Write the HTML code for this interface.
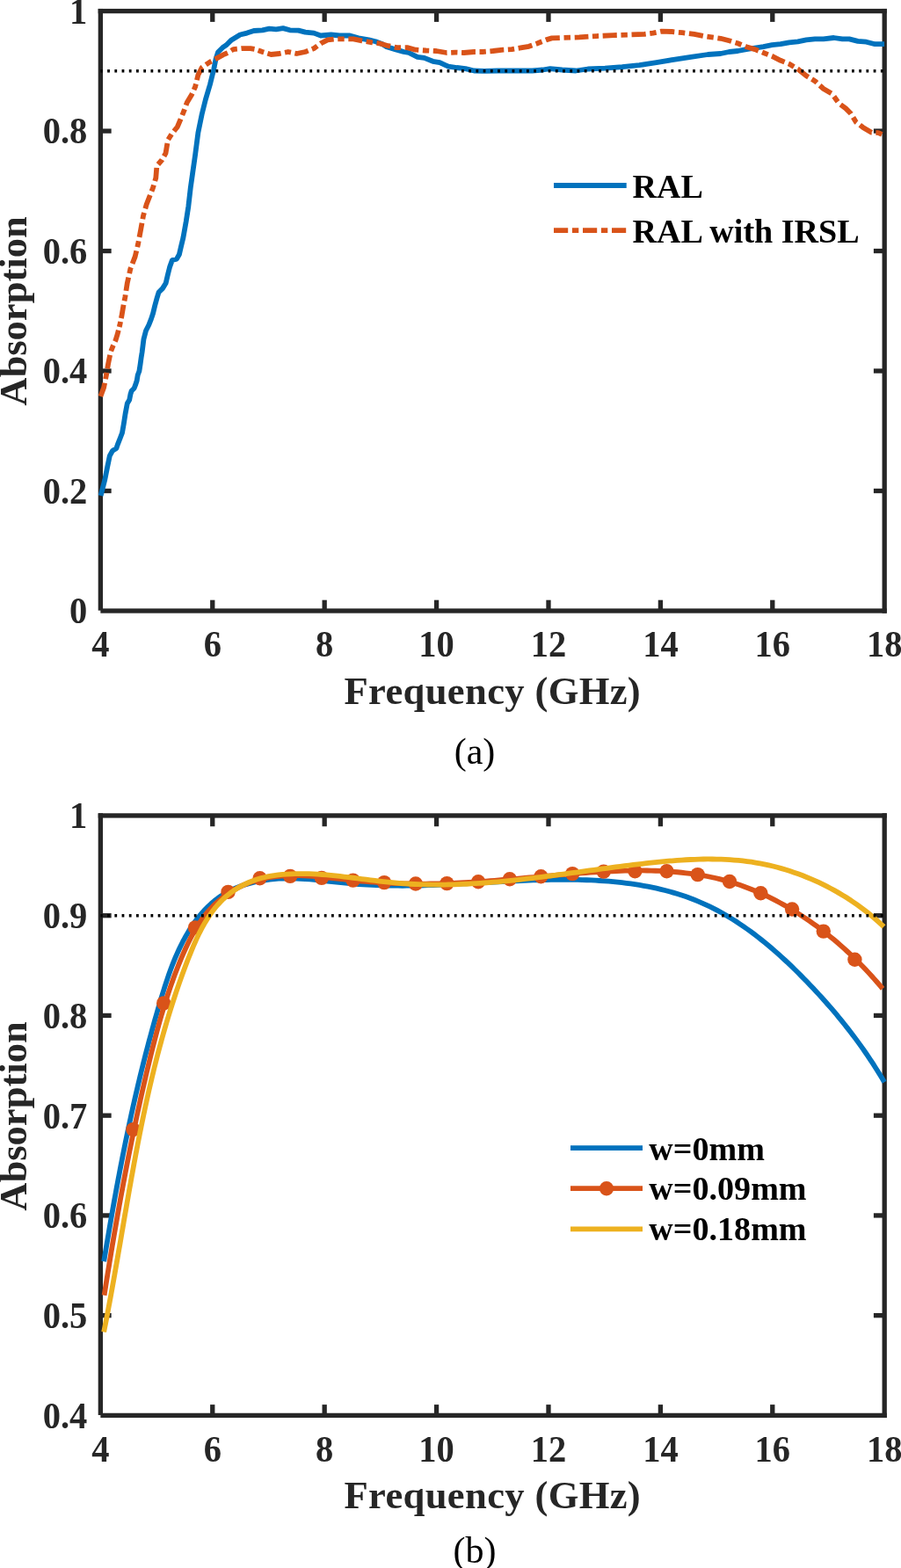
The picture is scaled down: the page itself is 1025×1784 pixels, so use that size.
<!DOCTYPE html>
<html><head><meta charset="utf-8"><title>Absorption vs Frequency</title>
<style>
html,body{margin:0;padding:0;background:#fff;}
body{width:1025px;height:1784px;overflow:hidden;}
svg{display:block;}
text{font-family:"Liberation Serif","Times New Roman",serif;}
</style></head><body>
<svg width="1025" height="1784" viewBox="0 0 1025 1784">
<defs>
<clipPath id="ca"><rect x="111.7" y="10" width="897.2" height="687.7"/></clipPath>
<clipPath id="cb"><rect x="111.7" y="925.3" width="897.2" height="687.8"/></clipPath>
</defs>
<rect width="1025" height="1784" fill="#fff"/>
<!-- ===== Plot (a) ===== -->
<g fill="#262626">
<rect x="111.7" y="9.95" width="5.3" height="684.65"/>
<rect x="111.7" y="9.95" width="897.15" height="5.3"/>
<rect x="1003.55" y="9.95" width="5.3" height="687.7"/>
<rect x="114.35" y="692.35" width="894.5" height="5.3"/>
</g>
<g fill="none" stroke="#262626" stroke-width="5.3">
<line x1="114.35" y1="558.52" x2="126.65" y2="558.52"/>
<line x1="1006.2" y1="558.52" x2="993.9" y2="558.52"/>
<line x1="114.35" y1="422.04" x2="126.65" y2="422.04"/>
<line x1="1006.2" y1="422.04" x2="993.9" y2="422.04"/>
<line x1="114.35" y1="285.56" x2="126.65" y2="285.56"/>
<line x1="1006.2" y1="285.56" x2="993.9" y2="285.56"/>
<line x1="114.35" y1="149.08" x2="126.65" y2="149.08"/>
<line x1="1006.2" y1="149.08" x2="993.9" y2="149.08"/>
<line x1="241.76" y1="695" x2="241.76" y2="682.7"/>
<line x1="241.76" y1="12.6" x2="241.76" y2="24.9"/>
<line x1="369.16" y1="695" x2="369.16" y2="682.7"/>
<line x1="369.16" y1="12.6" x2="369.16" y2="24.9"/>
<line x1="496.57" y1="695" x2="496.57" y2="682.7"/>
<line x1="496.57" y1="12.6" x2="496.57" y2="24.9"/>
<line x1="623.98" y1="695" x2="623.98" y2="682.7"/>
<line x1="623.98" y1="12.6" x2="623.98" y2="24.9"/>
<line x1="751.39" y1="695" x2="751.39" y2="682.7"/>
<line x1="751.39" y1="12.6" x2="751.39" y2="24.9"/>
<line x1="878.79" y1="695" x2="878.79" y2="682.7"/>
<line x1="878.79" y1="12.6" x2="878.79" y2="24.9"/>
</g>
<g clip-path="url(#ca)" fill="none" stroke-linejoin="round" stroke-width="5.8">
<path d="M114.6 563.9 119.3 545.7 122.2 531.1 124.8 518.7 128 512.9 132.4 510 133.9 505.6 136.8 498.3 139 492.5 140.8 482.3 142.6 470.6 144.8 459 147.2 455 148.4 448.7 149.6 444.8 152.6 441.8 154.3 437.4 155.7 433 156.7 426.7 158.4 422.3 159.6 414.5 160.6 407.2 161.6 400.9 163.5 385.7 166 376.2 169.3 369.7 171.9 363.1 174.1 356.5 176.2 347.8 178.8 338.3 180.6 332.5 185 328.1 188.6 322.3 190.8 312.8 193 304.1 195.9 296 201 294.6 203.9 289.5 206.1 280 208.4 270.5 211.7 252 214.3 235.2 216.8 213.4 218.7 200 222.1 176.1 225.4 150.9 229.7 129.9 233.9 113.1 238.9 96.2 243.1 79.4 245.6 66.8 248.1 59.2 253.2 54.2 258 50.8 263.4 45.4 273.2 39.5 281 37.6 288.8 35 298.5 34.3 306.3 32.6 314.1 33.3 322 32.1 329.8 34.3 339.5 34.6 347.3 36.6 357.1 37.6 364.9 40.5 376.6 39.5 386.3 40.5 398 40.5 407.8 43.4 419.5 45.4 427.3 47.3 435.1 50.2 439.8 53.2 449.5 56.1 459.3 59 465.1 60 474.9 64.9 482.7 65.9 492.4 69.8 500.2 71.1 510 75.6 519.8 77 529.5 78.1 539.3 80.5 551 80.9 566.6 80.5 586.1 80.5 605.6 80.5 617.3 79.5 625.9 78.1 639.5 79.5 655.1 80.5 668.8 78.5 688.3 77.6 707.8 76.2 727.3 74.2 746.8 71.1 766.3 67.8 785.9 64.9 805.4 62 819.8 61 829.5 59 839.3 58 849 56.1 858.8 54.7 868.5 53.2 878.3 51.2 888 50.2 897.8 48.3 907.6 47.3 917.3 45.4 927.1 44.4 936.8 44.4 948.5 43 958.3 44.4 966.1 44.4 975.9 46.9 985.6 47.7 995.4 50.2 1006.1 50.2" stroke="#0072BD"/>
<path d="M114.4 451 118.1 441 119.15 435.76 M120.06 431.22 120.8 427.5 121.39 424.01 M122.17 419.45 123.1 414 125.14 403.87 M126.26 399.44 128.6 393.5 128.97 392.69 M130.86 388.51 131.5 387.1 133.6 380.4 134.8 375.72 M135.77 371.97 136.2 370.3 137.1 365.97 M137.89 362.18 138.3 360.2 140.58 346.8 M141.47 342.37 142.3 338.2 142.74 335.33 M143.43 330.87 144.8 322 146.23 315.52 M147.21 311.11 148.4 305.7 148.98 304.19 M150.6 299.97 153.7 291.9 155.24 285.41 M156.26 281.1 157 278 157.71 274.23 M158.53 269.88 160.2 261 161.49 253.85 M162.33 249.21 163 245.5 164.01 241.94 M165.3 237.41 166.7 232.5 170.79 222.02 M172.51 217.62 174 213.8 174.94 210.54 M176.26 206 177.3 202.4 178.23 190.86 M179.88 186.99 184.2 182 184.41 181.63 M186.59 177.78 188.5 174.4 190.38 163.02 M191.37 158.72 195.12 152.73 M197.88 149.23 201.9 144.2 205.59 135.32 M207.35 131.02 209.5 125.7 210.04 124.18 M211.59 119.8 212.8 116.4 217.9 108 218.72 106.2 M220.57 102.14 222.1 98.8 222.91 95.5 M223.96 91.17 225.4 85.3 229.7 76.9 230.41 76.4 M234.28 73.68 238.1 71 240.58 69.64 M244.72 67.37 246.5 66.4 254.9 61.8 258.99 60.04 M262.97 57.67 265.4 56.1 269.84 55.64 M274.46 55.17 275.1 55.1 284.9 55.1 289.51 55.9 M293.67 57.2 298.5 59 300.2 59.52 M304.38 60.8 308.3 62 318 61 319.63 60.67 M324.03 59.77 327.8 59 331 59.65 M335.39 60.55 337.6 61 347.3 59 350.65 57.67 M354.88 55.98 357.1 55.1 360.98 52.21 M364.64 49.49 364.9 49.3 372.7 45.4 379.67 44.68 M384.3 44.4 391.66 44.4 M396.3 44.4 402 44.4 411.7 46.3 412.12 46.37 M416.68 47.15 423.4 48.3 423.91 48.37 M428.51 48.95 431.2 49.3 441.7 52.2 444.15 52.68 M448.72 53.56 451.5 54.1 456.05 54.1 M460.71 54.1 463.2 54.1 472.9 56.7 476.29 56.93 M480.89 57.25 484.6 57.5 488.18 57.65 M492.78 57.85 496.3 58 508 60 508.54 59.98 M513.15 59.79 517.8 59.6 520.44 59.71 M525.04 59.9 527.6 60 539.3 59 540.93 59 M545.54 59 549 59 552.83 58.67 M557.42 58.28 560.7 58 572.4 56.7 573.27 56.65 M577.87 56.37 582.2 56.1 585.12 55.6 M589.66 54.83 593.9 54.1 601.7 52.8 605.32 51.51 M609.69 49.94 611.5 49.3 616.55 47.27 M620.86 45.54 621.2 45.4 627.8 43.4 636.83 43.09 M641.54 42.94 649.01 42.71 M653.72 42.56 659 42.4 669.41 41.71 M673.94 41.4 678.5 41.1 681.13 40.97 M685.66 40.73 698 40.1 701.8 39.98 M706.47 39.84 713.87 39.61 M718.54 39.46 733.2 38.9 734.67 38.7 M739.3 38.08 742.9 37.6 746.59 36.85 M751.17 35.91 752.7 35.6 764.4 36 767.27 36.29 M771.92 36.77 776.1 37.2 779.27 37.59 M783.91 38.17 789.8 38.9 799.84 40.82 M804.43 41.64 811.76 42.67 M816.39 43.32 819.8 43.8 829.5 46.3 832.08 47.09 M836.54 48.46 839.3 49.3 843.49 50.99 M847.83 52.73 849 53.2 858.8 56.1 862.81 57.71 M867.06 59.42 868.5 60 873.79 62.1 M878.04 63.79 878.3 63.9 888 68.8 892.56 70.61 M896.87 72.33 897.8 72.7 903.27 75.94 M907.27 78.3 907.6 78.5 917.3 86.3 919.68 87.73 M923.55 90.06 927.1 92.2 929.33 94.22 M932.67 97.26 936.8 101 945.78 106.32 M948.75 109.78 953.05 115.73 M956.26 118.98 962.2 123.4 968 129.3 968.15 129.54 M970.55 133.49 973.9 139 974.58 139.52 M978.26 142.3 981.7 144.9 991.5 150.7 991.76 150.71 M996.37 150.95 999.3 151.1 1003.3 152.89" stroke="#D95319"/>
<line x1="114.35" y1="80.8" x2="1006.2" y2="80.8" stroke="#000" stroke-width="3.5" stroke-dasharray="2.8 5.422" stroke-dashoffset="0.45"/>
</g>
<g font-weight="bold" font-size="40.5" fill="#262626">
<text transform="translate(99.3 709.4) scale(1 1.04)" text-anchor="end">0</text>
<text transform="translate(99.3 572.92) scale(1 1.04)" text-anchor="end">0.2</text>
<text transform="translate(99.3 436.44) scale(1 1.04)" text-anchor="end">0.4</text>
<text transform="translate(99.3 299.96) scale(1 1.04)" text-anchor="end">0.6</text>
<text transform="translate(99.3 163.48) scale(1 1.04)" text-anchor="end">0.8</text>
<text transform="translate(99.3 27) scale(1 1.04)" text-anchor="end">1</text>
<text transform="translate(114.35 747.2) scale(1 1.04)" text-anchor="middle">4</text>
<text transform="translate(241.76 747.2) scale(1 1.04)" text-anchor="middle">6</text>
<text transform="translate(369.16 747.2) scale(1 1.04)" text-anchor="middle">8</text>
<text transform="translate(496.57 747.2) scale(1 1.04)" text-anchor="middle">10</text>
<text transform="translate(623.98 747.2) scale(1 1.04)" text-anchor="middle">12</text>
<text transform="translate(751.39 747.2) scale(1 1.04)" text-anchor="middle">14</text>
<text transform="translate(878.79 747.2) scale(1 1.04)" text-anchor="middle">16</text>
<text transform="translate(1006.2 747.2) scale(1 1.04)" text-anchor="middle">18</text>
</g>
<text x="560.3" y="801" text-anchor="middle" font-weight="bold" font-size="44.6" letter-spacing="0.35" fill="#262626">Frequency (GHz)</text>
<text transform="translate(30.3 354) rotate(-90)" text-anchor="middle" font-weight="bold" font-size="44.6" fill="#262626">Absorption</text>
<g stroke-width="5.8">
<line x1="630" y1="211" x2="712.7" y2="211" stroke="#0072BD"/>
<line x1="630" y1="262.2" x2="712.7" y2="262.2" stroke="#D95319" stroke-dasharray="16.2 4.7 7.4 4.7"/>
</g>
<g font-weight="bold" font-size="38.1" fill="#000">
<text x="719.5" y="225.1">RAL</text>
<text x="719.5" y="275.9">RAL with IRSL</text>
</g>
<text x="540" y="869" text-anchor="middle" font-size="42" fill="#000">(a)</text>

<!-- ===== Plot (b) ===== -->
<g fill="#262626">
<rect x="111.7" y="925.3" width="5.3" height="684.7"/>
<rect x="111.7" y="925.3" width="897.15" height="5.3"/>
<rect x="1003.55" y="925.3" width="5.3" height="687.75"/>
<rect x="114.35" y="1607.75" width="894.5" height="5.3"/>
</g>
<g fill="none" stroke="#262626" stroke-width="5.3">
<line x1="114.35" y1="1496.66" x2="126.65" y2="1496.66"/>
<line x1="1006.2" y1="1496.66" x2="993.9" y2="1496.66"/>
<line x1="114.35" y1="1382.92" x2="126.65" y2="1382.92"/>
<line x1="1006.2" y1="1382.92" x2="993.9" y2="1382.92"/>
<line x1="114.35" y1="1269.18" x2="126.65" y2="1269.18"/>
<line x1="1006.2" y1="1269.18" x2="993.9" y2="1269.18"/>
<line x1="114.35" y1="1155.43" x2="126.65" y2="1155.43"/>
<line x1="1006.2" y1="1155.43" x2="993.9" y2="1155.43"/>
<line x1="114.35" y1="1041.69" x2="126.65" y2="1041.69"/>
<line x1="1006.2" y1="1041.69" x2="993.9" y2="1041.69"/>
<line x1="241.76" y1="1610.4" x2="241.76" y2="1598.1"/>
<line x1="241.76" y1="927.95" x2="241.76" y2="940.25"/>
<line x1="369.16" y1="1610.4" x2="369.16" y2="1598.1"/>
<line x1="369.16" y1="927.95" x2="369.16" y2="940.25"/>
<line x1="496.57" y1="1610.4" x2="496.57" y2="1598.1"/>
<line x1="496.57" y1="927.95" x2="496.57" y2="940.25"/>
<line x1="623.98" y1="1610.4" x2="623.98" y2="1598.1"/>
<line x1="623.98" y1="927.95" x2="623.98" y2="940.25"/>
<line x1="751.39" y1="1610.4" x2="751.39" y2="1598.1"/>
<line x1="751.39" y1="927.95" x2="751.39" y2="940.25"/>
<line x1="878.79" y1="1610.4" x2="878.79" y2="1598.1"/>
<line x1="878.79" y1="927.95" x2="878.79" y2="940.25"/>
</g>
<g clip-path="url(#cb)" fill="none" stroke-linejoin="round" stroke-width="5.8">
<path d="M118.2 1435.26 119.02 1430.27 119.84 1425.28 120.67 1420.3 121.5 1415.33 122.33 1410.36 123.17 1405.4 124.01 1400.44 124.86 1395.49 125.71 1390.55 126.57 1385.6 127.43 1380.67 128.3 1375.73 129.18 1370.8 130.06 1365.88 130.95 1360.96 131.85 1356.05 132.75 1351.13 133.66 1346.23 134.58 1341.32 135.5 1336.42 136.44 1331.53 137.38 1326.64 138.33 1321.75 139.28 1316.86 140.25 1311.98 141.23 1307.1 142.21 1302.22 143.21 1297.35 144.21 1292.48 145.23 1287.61 146.25 1282.75 147.29 1277.88 148.34 1273.02 149.39 1268.17 150.46 1263.31 151.54 1258.46 152.63 1253.6 153.74 1248.75 154.85 1243.9 155.98 1239.06 157.12 1234.21 158.27 1229.37 159.44 1224.52 160.62 1219.68 161.81 1214.84 163.02 1210 164.24 1205.16 165.47 1200.33 166.72 1195.49 167.99 1190.65 169.26 1185.81 170.56 1180.98 171.87 1176.14 173.19 1171.3 174.53 1166.47 175.88 1161.63 177.26 1156.79 178.65 1151.96 180.05 1147.12 181.47 1142.28 182.91 1137.44 184.37 1132.6 185.86 1127.77 187.38 1122.95 188.94 1118.14 190.54 1113.34 192.19 1108.56 193.9 1103.81 195.67 1099.08 197.51 1094.38 199.43 1089.72 201.43 1085.09 203.51 1080.51 205.69 1075.97 207.96 1071.47 210.34 1067.03 212.83 1062.66 215.42 1058.36 218.12 1054.15 220.94 1050.03 223.87 1046.02 226.93 1042.14 230.1 1038.38 233.39 1034.77 236.81 1031.31 240.35 1028.01 244.03 1024.9 247.84 1021.96 251.78 1019.23 255.85 1016.69 260.04 1014.35 264.34 1012.2 268.75 1010.23 273.26 1008.44 277.85 1006.83 282.53 1005.39 287.29 1004.12 292.11 1003.01 296.99 1002.05 301.92 1001.25 306.89 1000.6 311.89 1000.09 316.93 999.72 321.98 999.48 327.05 999.37 332.11 999.39 337.19 999.52 342.26 999.75 347.33 1000.07 352.41 1000.46 357.48 1000.91 362.55 1001.41 367.62 1001.95 372.69 1002.51 377.75 1003.08 382.81 1003.65 387.86 1004.21 392.9 1004.74 397.94 1005.22 402.97 1005.66 407.99 1006.05 413.01 1006.4 418.02 1006.7 423.02 1006.96 428.01 1007.18 433 1007.36 437.99 1007.5 442.97 1007.61 447.94 1007.68 452.92 1007.72 457.88 1007.73 462.85 1007.7 467.81 1007.65 472.76 1007.58 477.72 1007.48 482.67 1007.35 487.62 1007.21 492.57 1007.04 497.52 1006.86 502.47 1006.66 507.41 1006.44 512.36 1006.21 517.3 1005.97 522.25 1005.72 527.2 1005.46 532.15 1005.19 537.1 1004.92 542.05 1004.65 547.01 1004.37 551.97 1004.09 556.93 1003.81 561.89 1003.54 566.86 1003.27 571.83 1003 576.81 1002.74 581.79 1002.49 586.77 1002.26 591.77 1002.03 596.76 1001.82 601.77 1001.62 606.78 1001.44 611.79 1001.28 616.82 1001.14 621.85 1001.02 626.89 1000.93 631.93 1000.86 636.98 1000.82 642.04 1000.81 647.09 1000.83 652.15 1000.88 657.2 1000.97 662.26 1001.09 667.31 1001.25 672.36 1001.46 677.41 1001.7 682.45 1002 687.48 1002.33 692.5 1002.72 697.51 1003.16 702.51 1003.64 707.5 1004.19 712.48 1004.79 717.44 1005.44 722.39 1006.16 727.32 1006.94 732.23 1007.78 737.12 1008.68 742 1009.66 746.85 1010.7 751.67 1011.82 756.48 1013 761.25 1014.27 766 1015.61 770.73 1017.03 775.42 1018.52 780.09 1020.11 784.72 1021.77 789.32 1023.52 793.88 1025.36 798.42 1027.3 802.91 1029.32 807.37 1031.43 811.79 1033.63 816.18 1035.92 820.53 1038.29 824.84 1040.74 829.12 1043.27 833.36 1045.88 837.57 1048.56 841.74 1051.31 845.88 1054.12 849.98 1057 854.05 1059.95 858.09 1062.95 862.09 1066.01 866.05 1069.13 869.98 1072.3 873.88 1075.51 877.74 1078.78 881.57 1082.09 885.37 1085.44 889.13 1088.83 892.86 1092.25 896.56 1095.71 900.22 1099.2 903.86 1102.72 907.46 1106.27 911.03 1109.84 914.56 1113.43 918.07 1117.04 921.54 1120.66 924.98 1124.3 928.39 1127.95 931.77 1131.62 935.11 1135.3 938.43 1139 941.71 1142.72 944.97 1146.46 948.19 1150.21 951.38 1153.99 954.54 1157.79 957.67 1161.61 960.76 1165.46 963.83 1169.33 966.86 1173.23 969.87 1177.16 972.84 1181.12 975.78 1185.1 978.69 1189.12 981.57 1193.17 984.42 1197.26 987.24 1201.37 990.02 1205.53 992.78 1209.72 995.5 1213.95 998.2 1218.21 1000.86 1222.52 1003.49 1226.87 1006.1 1231.26" stroke="#0072BD"/>
<path d="M118.6 1473.72 119.37 1468.86 120.13 1464 120.9 1459.14 121.68 1454.28 122.46 1449.41 123.25 1444.55 124.04 1439.69 124.84 1434.82 125.64 1429.95 126.45 1425.09 127.26 1420.22 128.08 1415.35 128.9 1410.49 129.73 1405.62 130.57 1400.75 131.41 1395.89 132.26 1391.02 133.11 1386.15 133.97 1381.29 134.84 1376.42 135.71 1371.56 136.59 1366.7 137.47 1361.84 138.37 1356.97 139.27 1352.11 140.17 1347.26 141.09 1342.4 142.01 1337.54 142.94 1332.69 143.87 1327.83 144.81 1322.98 145.76 1318.13 146.72 1313.29 147.69 1308.44 148.66 1303.6 149.64 1298.76 150.63 1293.92 151.63 1289.08 152.64 1284.25 153.65 1279.42 154.67 1274.59 155.7 1269.76 156.74 1264.94 157.79 1260.12 158.85 1255.3 159.91 1250.49 160.99 1245.68 162.07 1240.87 163.17 1236.07 164.27 1231.27 165.38 1226.48 166.5 1221.68 167.64 1216.9 168.78 1212.11 169.93 1207.33 171.09 1202.56 172.26 1197.79 173.45 1193.02 174.66 1188.26 175.88 1183.5 177.12 1178.75 178.38 1174 179.67 1169.25 180.98 1164.52 182.31 1159.78 183.68 1155.06 185.07 1150.33 186.49 1145.62 187.95 1140.91 189.44 1136.2 190.96 1131.5 192.52 1126.81 194.12 1122.12 195.77 1117.44 197.45 1112.76 199.18 1108.09 200.96 1103.43 202.78 1098.77 204.65 1094.12 206.57 1089.48 208.55 1084.85 210.59 1080.24 212.7 1075.67 214.89 1071.15 217.16 1066.68 219.52 1062.27 221.98 1057.94 224.55 1053.7 227.23 1049.56 230.03 1045.52 232.96 1041.61 236.03 1037.82 239.23 1034.17 242.58 1030.67 246.07 1027.33 249.7 1024.14 253.45 1021.11 257.32 1018.24 261.31 1015.54 265.4 1013.01 269.6 1010.65 273.88 1008.46 278.25 1006.46 282.7 1004.63 287.21 1002.99 291.8 1001.53 296.44 1000.27 301.13 999.2 305.87 998.3 310.65 997.58 315.48 997.01 320.34 996.6 325.24 996.32 330.17 996.16 335.12 996.13 340.11 996.2 345.11 996.37 350.14 996.62 355.17 996.95 360.23 997.34 365.29 997.78 370.35 998.27 375.42 998.79 380.49 999.34 385.55 999.89 390.61 1000.45 395.65 1001 400.69 1001.53 405.7 1002.03 410.7 1002.5 415.68 1002.93 420.65 1003.33 425.6 1003.7 430.55 1004.04 435.48 1004.34 440.4 1004.61 445.31 1004.85 450.22 1005.05 455.12 1005.22 460.01 1005.36 464.9 1005.47 469.79 1005.54 474.68 1005.58 479.56 1005.58 484.45 1005.56 489.33 1005.5 494.22 1005.41 499.1 1005.3 503.99 1005.16 508.87 1004.99 513.76 1004.8 518.65 1004.59 523.53 1004.35 528.42 1004.09 533.31 1003.81 538.2 1003.52 543.1 1003.2 547.99 1002.87 552.89 1002.52 557.78 1002.16 562.68 1001.79 567.59 1001.41 572.49 1001.01 577.4 1000.6 582.31 1000.19 587.22 999.77 592.14 999.34 597.06 998.91 601.98 998.48 606.9 998.04 611.83 997.6 616.77 997.16 621.71 996.73 626.65 996.29 631.59 995.86 636.54 995.43 641.5 995.01 646.46 994.6 651.42 994.19 656.39 993.8 661.37 993.41 666.35 993.04 671.33 992.69 676.31 992.35 681.29 992.03 686.28 991.74 691.26 991.47 696.25 991.23 701.23 991.01 706.21 990.83 711.19 990.68 716.17 990.56 721.14 990.49 726.11 990.45 731.07 990.45 736.02 990.5 740.97 990.6 745.91 990.74 750.84 990.93 755.76 991.18 760.68 991.48 765.58 991.84 770.47 992.26 775.35 992.74 780.22 993.28 785.07 993.89 789.91 994.56 794.73 995.31 799.54 996.13 804.34 997.02 809.11 997.99 813.87 999.03 818.61 1000.16 823.33 1001.37 828.04 1002.67 832.72 1004.05 837.38 1005.52 842.02 1007.08 846.63 1008.72 851.23 1010.44 855.8 1012.25 860.34 1014.13 864.86 1016.09 869.35 1018.12 873.82 1020.23 878.25 1022.42 882.66 1024.67 887.04 1026.99 891.39 1029.38 895.71 1031.84 900 1034.36 904.25 1036.95 908.47 1039.6 912.66 1042.31 916.81 1045.07 920.93 1047.89 925.01 1050.77 929.05 1053.7 933.06 1056.69 937.02 1059.72 940.95 1062.81 944.84 1065.94 948.69 1069.11 952.49 1072.33 956.26 1075.6 959.98 1078.9 963.65 1082.24 967.29 1085.62 970.87 1089.04 974.41 1092.49 977.91 1095.98 981.35 1099.49 984.75 1103.04 988.1 1106.61 991.4 1110.21 994.65 1113.84 997.85 1117.49 1000.99 1121.16 1004.08 1124.85" stroke="#D95319"/>
<g fill="#D95319" stroke="none">
<circle cx="151.4" cy="1285.1" r="8.2"/>
<circle cx="186.2" cy="1141.4" r="8.2"/>
<circle cx="222" cy="1055.4" r="8.2"/>
<circle cx="259.5" cy="1014.9" r="8.2"/>
<circle cx="295.6" cy="999.3" r="8.2"/>
<circle cx="330.1" cy="996.9" r="8.2"/>
<circle cx="365.9" cy="998.9" r="8.2"/>
<circle cx="401.6" cy="1001.6" r="8.2"/>
<circle cx="437.1" cy="1004.1" r="8.2"/>
<circle cx="472.9" cy="1005.5" r="8.2"/>
<circle cx="508.4" cy="1005.1" r="8.2"/>
<circle cx="544.1" cy="1003.2" r="8.2"/>
<circle cx="579.9" cy="1000.2" r="8.2"/>
<circle cx="615.4" cy="997.3" r="8.2"/>
<circle cx="651.2" cy="994.1" r="8.2"/>
<circle cx="686.7" cy="991.6" r="8.2"/>
<circle cx="722.4" cy="991.2" r="8.2"/>
<circle cx="758.5" cy="991.2" r="8.2"/>
<circle cx="793.7" cy="995.1" r="8.2"/>
<circle cx="830" cy="1003" r="8.2"/>
<circle cx="865.4" cy="1016.2" r="8.2"/>
<circle cx="901.1" cy="1034.5" r="8.2"/>
<circle cx="936.8" cy="1059.6" r="8.2"/>
<circle cx="972.4" cy="1091.7" r="8.2"/>
</g>
<path d="M118.15 1515.49 119.13 1510.54 120.11 1505.6 121.07 1500.65 122.02 1495.71 122.96 1490.76 123.89 1485.82 124.81 1480.87 125.72 1475.93 126.63 1470.99 127.53 1466.04 128.42 1461.1 129.3 1456.16 130.18 1451.22 131.06 1446.27 131.93 1441.33 132.79 1436.39 133.66 1431.45 134.51 1426.51 135.37 1421.58 136.22 1416.64 137.08 1411.7 137.93 1406.77 138.77 1401.83 139.62 1396.9 140.47 1391.97 141.32 1387.04 142.17 1382.11 143.03 1377.18 143.88 1372.26 144.74 1367.33 145.6 1362.41 146.46 1357.49 147.33 1352.56 148.21 1347.65 149.08 1342.73 149.97 1337.81 150.86 1332.9 151.75 1327.99 152.66 1323.08 153.57 1318.17 154.49 1313.27 155.42 1308.36 156.35 1303.46 157.3 1298.56 158.26 1293.67 159.22 1288.77 160.2 1283.88 161.19 1278.99 162.2 1274.1 163.21 1269.22 164.24 1264.34 165.28 1259.46 166.34 1254.58 167.41 1249.71 168.49 1244.84 169.59 1239.97 170.71 1235.11 171.84 1230.24 172.99 1225.38 174.16 1220.53 175.35 1215.68 176.55 1210.83 177.77 1205.98 179.02 1201.14 180.28 1196.3 181.56 1191.46 182.87 1186.63 184.2 1181.8 185.54 1176.98 186.92 1172.16 188.31 1167.34 189.73 1162.53 191.17 1157.72 192.63 1152.91 194.12 1148.11 195.64 1143.31 197.18 1138.52 198.75 1133.73 200.35 1128.94 201.97 1124.16 203.62 1119.38 205.3 1114.61 207.01 1109.84 208.75 1105.08 210.52 1100.32 212.32 1095.57 214.15 1090.82 216.01 1086.08 217.92 1081.35 219.88 1076.66 221.9 1072 223.99 1067.39 226.16 1062.85 228.42 1058.36 230.77 1053.96 233.23 1049.65 235.81 1045.43 238.51 1041.32 241.33 1037.33 244.3 1033.47 247.42 1029.75 250.7 1026.18 254.14 1022.76 257.77 1019.51 261.57 1016.44 265.54 1013.55 269.67 1010.86 273.95 1008.37 278.36 1006.08 282.88 1004 287.51 1002.15 292.23 1000.52 297.02 999.13 301.87 997.95 306.77 996.96 311.71 996.15 316.67 995.49 321.63 994.97 326.6 994.57 331.58 994.29 336.56 994.12 341.54 994.05 346.52 994.08 351.51 994.19 356.5 994.39 361.49 994.67 366.49 995.01 371.49 995.41 376.49 995.87 381.49 996.38 386.49 996.93 391.49 997.51 396.5 998.12 401.5 998.75 406.51 999.39 411.51 1000.05 416.52 1000.7 421.53 1001.34 426.53 1001.97 431.54 1002.58 436.54 1003.16 441.54 1003.71 446.54 1004.21 451.54 1004.67 456.54 1005.08 461.53 1005.43 466.53 1005.74 471.52 1005.99 476.51 1006.2 481.5 1006.36 486.49 1006.48 491.48 1006.56 496.46 1006.59 501.45 1006.58 506.43 1006.53 511.41 1006.44 516.4 1006.32 521.38 1006.16 526.35 1005.96 531.33 1005.73 536.31 1005.47 541.29 1005.17 546.26 1004.85 551.24 1004.49 556.21 1004.11 561.19 1003.7 566.16 1003.27 571.14 1002.81 576.11 1002.33 581.08 1001.83 586.06 1001.31 591.03 1000.77 596 1000.21 600.97 999.63 605.95 999.04 610.92 998.43 615.89 997.82 620.86 997.19 625.84 996.54 630.81 995.89 635.78 995.23 640.76 994.57 645.73 993.9 650.71 993.22 655.68 992.54 660.66 991.86 665.64 991.18 670.62 990.49 675.59 989.81 680.57 989.14 685.55 988.46 690.54 987.8 695.52 987.13 700.5 986.48 705.49 985.83 710.47 985.2 715.46 984.58 720.45 983.97 725.44 983.37 730.43 982.79 735.43 982.22 740.42 981.67 745.42 981.14 750.41 980.64 755.41 980.16 760.41 979.71 765.41 979.29 770.4 978.91 775.4 978.56 780.39 978.26 785.39 978 790.38 977.79 795.36 977.63 800.35 977.52 805.33 977.47 810.3 977.48 815.27 977.55 820.24 977.69 825.2 977.89 830.16 978.17 835.11 978.52 840.05 978.95 844.99 979.47 849.92 980.06 854.84 980.74 859.75 981.52 864.66 982.38 869.55 983.34 874.44 984.4 879.31 985.54 884.16 986.78 889 988.11 893.81 989.53 898.61 991.04 903.38 992.63 908.12 994.31 912.84 996.08 917.53 997.93 922.18 999.86 926.8 1001.88 931.39 1003.97 935.94 1006.15 940.45 1008.41 944.91 1010.74 949.33 1013.15 953.71 1015.64 958.04 1018.2 962.32 1020.84 966.54 1023.55 970.71 1026.33 974.83 1029.18 978.89 1032.11 982.88 1035.1 986.82 1038.16 990.69 1041.28 994.49 1044.47 998.23 1047.73 1001.9 1051.05 1005.49 1054.43" stroke="#EDB120"/>
<line x1="114.35" y1="1041.69" x2="1006.2" y2="1041.69" stroke="#000" stroke-width="3.5" stroke-dasharray="2.8 5.422" stroke-dashoffset="0.45"/>
</g>
<g font-weight="bold" font-size="40.5" fill="#262626">
<text transform="translate(99.3 1624.8) scale(1 1.04)" text-anchor="end">0.4</text>
<text transform="translate(99.3 1511.06) scale(1 1.04)" text-anchor="end">0.5</text>
<text transform="translate(99.3 1397.32) scale(1 1.04)" text-anchor="end">0.6</text>
<text transform="translate(99.3 1283.58) scale(1 1.04)" text-anchor="end">0.7</text>
<text transform="translate(99.3 1169.83) scale(1 1.04)" text-anchor="end">0.8</text>
<text transform="translate(99.3 1056.09) scale(1 1.04)" text-anchor="end">0.9</text>
<text transform="translate(99.3 942.35) scale(1 1.04)" text-anchor="end">1</text>
<text transform="translate(114.35 1662.6) scale(1 1.04)" text-anchor="middle">4</text>
<text transform="translate(241.76 1662.6) scale(1 1.04)" text-anchor="middle">6</text>
<text transform="translate(369.16 1662.6) scale(1 1.04)" text-anchor="middle">8</text>
<text transform="translate(496.57 1662.6) scale(1 1.04)" text-anchor="middle">10</text>
<text transform="translate(623.98 1662.6) scale(1 1.04)" text-anchor="middle">12</text>
<text transform="translate(751.39 1662.6) scale(1 1.04)" text-anchor="middle">14</text>
<text transform="translate(878.79 1662.6) scale(1 1.04)" text-anchor="middle">16</text>
<text transform="translate(1006.2 1662.6) scale(1 1.04)" text-anchor="middle">18</text>
</g>
<text x="560.3" y="1716.2" text-anchor="middle" font-weight="bold" font-size="44.6" letter-spacing="0.35" fill="#262626">Frequency (GHz)</text>
<text transform="translate(30.3 1270) rotate(-90)" text-anchor="middle" font-weight="bold" font-size="44.6" fill="#262626">Absorption</text>
<g stroke-width="5.8">
<line x1="649" y1="1306.1" x2="731" y2="1306.1" stroke="#0072BD"/>
<line x1="649" y1="1352.1" x2="731" y2="1352.1" stroke="#D95319"/>
<line x1="649" y1="1398.3" x2="731" y2="1398.3" stroke="#EDB120"/>
</g>
<circle cx="690" cy="1352.3" r="8.2" fill="#D95319"/>
<g font-weight="bold" font-size="38.1" fill="#000">
<text x="738.3" y="1320.1">w=0mm</text>
<text x="738.3" y="1365.2">w=0.09mm</text>
<text x="738.3" y="1410.5">w=0.18mm</text>
</g>
<text x="540" y="1778" text-anchor="middle" font-size="42" fill="#000">(b)</text>
</svg>
</body></html>
